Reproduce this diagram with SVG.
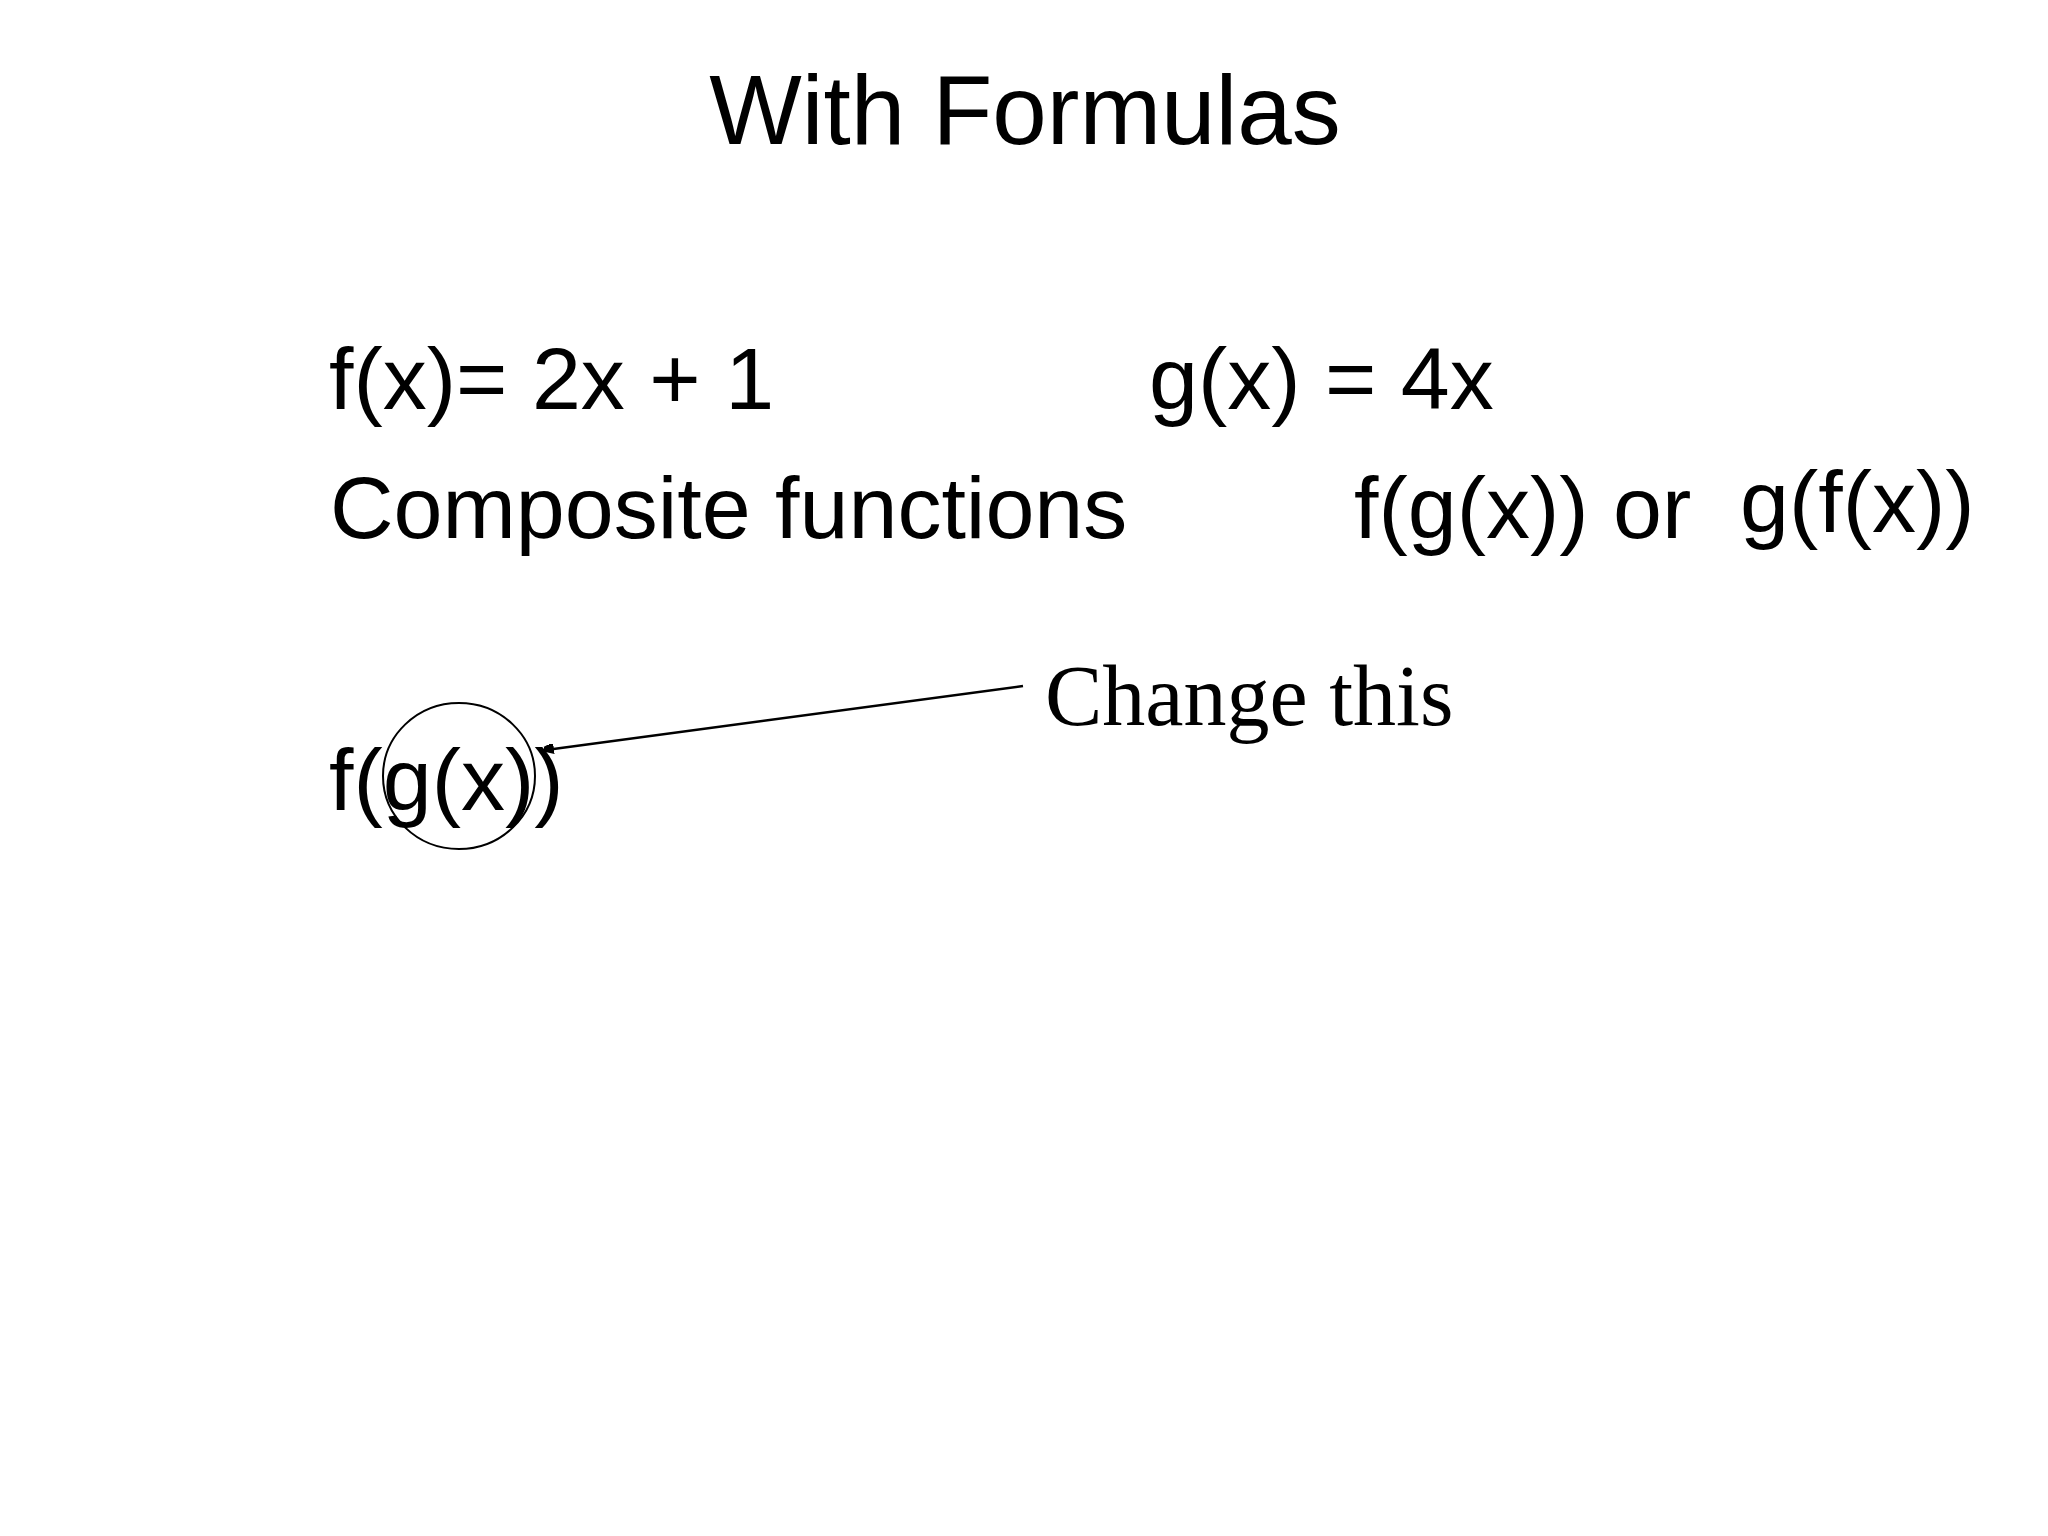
<svg xmlns="http://www.w3.org/2000/svg" width="2048" height="1536" viewBox="0 0 2048 1536">
<style>
.s{font-family:"Liberation Sans",Arial,sans-serif;fill:#000}
.m{font-size:88px}
</style>
<defs><marker id="ah" markerWidth="10" markerHeight="10" refX="8" refY="5" orient="auto" markerUnits="userSpaceOnUse"><path d="M0,0 L14,5 L0,10 z" transform="scale(1.2)" fill="#000"/></marker></defs>
<rect width="2048" height="1536" fill="#fff"/>
<g id="title"><text class="s" x="1025" y="144" font-size="98" text-anchor="middle">With Formulas</text></g>
<g id="fx"><text class="s m" x="329" y="409">f(x)= 2x + 1</text></g>
<g id="gx"><text class="s m" x="1149" y="409">g(x) = 4x</text></g>
<g id="comp"><text class="s m" x="330" y="538">Composite functions</text></g>
<g id="fgor"><text class="s m" x="1354" y="538">f(g(x)) or</text></g>
<g id="gf"><text class="s m" x="1740" y="532">g(f(x))</text></g>
<g id="fg"><text class="s m" x="329" y="810">f(g(x))</text><ellipse cx="459" cy="776" rx="76" ry="73" fill="none" stroke="#000" stroke-width="2"/></g>
<g id="label"><text x="1045" y="725" font-family="'Liberation Serif','Times New Roman',serif" font-size="86">Change this</text></g>
<g id="connectors"><line x1="1023" y1="686" x2="546" y2="750" stroke="#000" stroke-width="2.5" marker-end="url(#ah)"/></g>
</svg>
